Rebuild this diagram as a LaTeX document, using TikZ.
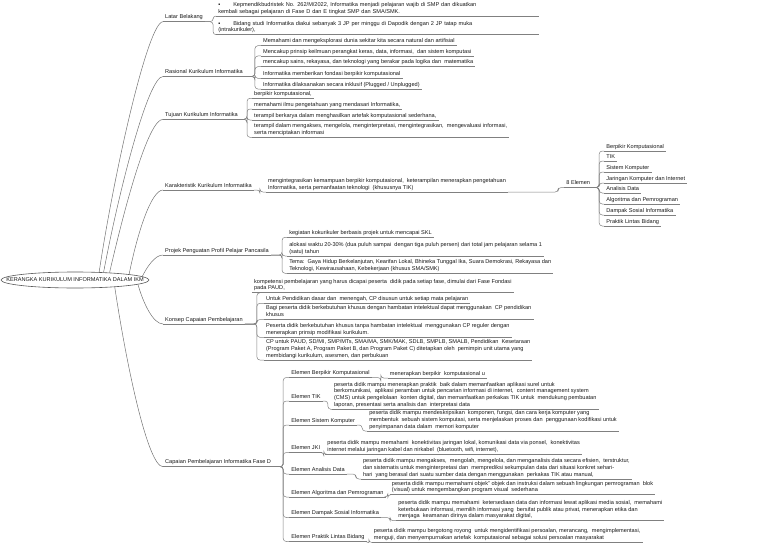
\documentclass[tikz,border=0pt]{standalone}
\usepackage{fontspec}
\setmainfont{Liberation Sans}
\usetikzlibrary{shapes.geometric}
\newcommand*{\mapfont}{\fontsize{5.6}{6.8}\selectfont}
\newcommand*{\bul}{▪\hspace{13pt}}
\tikzset{
    topic/.style = {anchor=south west,inner xsep=2pt,inner ysep=1.5pt,text depth=1.2pt,
        align=left,font=\mapfont,text=black!90,
        append after command={(\tikzlastnode.south west) edge[uline] (\tikzlastnode.south east)}},
    widetopic/.style = {topic,text width=#1,text depth={}},
    uline/.style = {draw=black!50,line width=0.5pt},
    conn/.style = {draw=black!50,line width=0.5pt,rounded corners=3pt},
    branch/.style = {draw=black!55,line width=0.5pt},
    central/.style = {ellipse,draw=black!65,line width=0.6pt,inner xsep=-30pt,inner ysep=0pt,
        minimum width=148pt,minimum height=16pt,font=\mapfont,text=black!90}
}

\begin{document}
\begin{tikzpicture}[x=1pt,y=-1pt]
        \useasboundingbox (0,0) rectangle (768,543);
        % Central topic
        \node[central] (root) at (75,280) {KERANGKA KURIKULUM INFORMATIKA DALAM IKM};
        % Main topics
        \node[topic] (lb) at (163,21.7) {Latar Belakang};
        \node[topic] (ras) at (163,76.5) {Rasional Kurikulum Informatika};
        \node[topic] (tuj) at (163,119.3) {Tujuan Kurikulum Informatika};
        \node[topic] (kar) at (163,190) {Karakteristik Kurikulum Informatika};
        \node[topic] (proj) at (163,255) {Projek Penguatan Profil Pelajar Pancasila};
        \node[topic] (kon) at (163,324) {Konsep Capaian Pembelajaran};
        \node[topic] (cp) at (163,466.7) {Capaian Pembelajaran Informatika Fase D};
        % Latar belakang
        \node[widetopic=319pt,xshift=11pt] (lb1) at (lb.south east |- 0,16) {\bul Kepmendikbudristek No. 262/M/2022, Informatika menjadi pelajaran wajib di SMP dan dikuatkan\\kembali sebagai pelajaran di Fase D dan E tingkat SMP dan SMA/SMK.};
        \node[widetopic=319pt,xshift=11pt] (lb2) at (lb.south east |- 0,34.7) {\bul Bidang studi Informatika diakui sebanyak 3 JP per minggu di Dapodik dengan 2 JP tatap muka\\(intrakurikuler),};
        % Rasional
        \node[topic,xshift=16pt] (ras1) at (ras.south east |- 0,45.7) {Memahami dan mengeksplorasi dunia sekitar kita secara natural dan artifisial};
        \node[topic,xshift=16pt] (ras2) at (ras.south east |- 0,56) {Mencakup prinsip keilmuan perangkat keras, data, informasi,\ \ dan sistem komputasi};
        \node[topic,xshift=16pt] (ras3) at (ras.south east |- 0,66.7) {mencakup sains, rekayasa, dan teknologi yang berakar pada logika dan\ \ matematika};
        \node[topic,xshift=16pt] (ras4) at (ras.south east |- 0,78.3) {Informatika memberikan fondasi berpikir komputasional};
        \node[topic,xshift=16pt] (ras5) at (ras.south east |- 0,89) {Informatika dilaksanakan secara inklusif (Plugged / Unplugged)};
        % Tujuan
        \node[topic,xshift=12pt] (tuj1) at (tuj.south east |- 0,98.3) {berpikir komputasional,};
        \node[topic,xshift=12pt] (tuj2) at (tuj.south east |- 0,109) {memahami ilmu pengetahuan yang mendasari Informatika,};
        \node[topic,xshift=12pt] (tuj3) at (tuj.south east |- 0,120) {terampil berkarya dalam menghasilkan artefak komputasional sederhana,};
        \node[topic,xshift=12pt] (tuj4) at (tuj.south east |- 0,137.3) {terampil dalam mengakses, mengelola, menginterpretasi, mengintegrasikan,\ \ mengevaluasi informasi,\\serta menciptakan informasi};
        % Karakteristik
        \node[topic,xshift=12pt] (kar1) at (kar.south east |- 0,192) {mengintegrasikan kemampuan berpikir komputasional,\ \ keterampilan menerapkan pengetahuan\\Informatika, serta pemanfaatan teknologi\ \ (khususnya TIK)};
        \node[topic,xshift=56pt] (el8) at (kar1.south east |- 0,187.5) {8 Elemen};
        \foreach \n/\y/\t in {ela/151/Berpikir Komputasional,elb/161/TIK,elc/172/Sistem Komputer,
                eld/183/Jaringan Komputer dan Internet,ele/193/Analisis Data,
                elf/204/Algoritma dan Pemrograman,elg/215/Dampak Sosial Informatika,
                elh/226/Praktik Lintas Bidang}
            \node[topic,xshift=12pt] (\n) at (el8.south east |- 0,\y) {\t};
        % Projek
        \node[topic,xshift=16pt] (proj1) at (proj.south east |- 0,237.3) {kegiatan kokurikuler berbasis projek untuk mencapai SKL};
        \node[topic,xshift=16pt] (proj2) at (proj.south east |- 0,256) {alokasi waktu 20-30\% (dua puluh sampai\ \ dengan tiga puluh persen) dari total jam pelajaran selama 1\\(satu) tahun};
        \node[topic,xshift=16pt] (proj3) at (proj.south east |- 0,273.3) {Tema:\ \ Gaya Hidup Berkelanjutan, Kearifan Lokal, Bhineka Tunggal Ika, Suara Demokrasi, Rekayasa dan\\Teknologi, Kewirausahaan, Kebekerjaan (khusus SMA/SMK)};
        % Konsep CP
        \node[topic,xshift=7pt] (kon1) at (kon.south east |- 0,292.7) {kompetensi pembelajaran yang harus dicapai peserta\ \ didik pada setiap fase, dimulai dari Fase Fondasi\\pada PAUD,};
        \node[topic,xshift=19pt] (kon2) at (kon.south east |- 0,303.3) {Untuk Pendidikan dasar dan\ \ menengah, CP disusun untuk setiap mata pelajaran};
        \node[topic,xshift=19pt] (kon3) at (kon.south east |- 0,319.5) {Bagi peserta didik berkebutuhan khusus dengan hambatan intelektual dapat menggunakan\ \ CP pendidikan\\khusus};
        \node[topic,xshift=19pt] (kon4) at (kon.south east |- 0,337.3) {Peserta didik berkebutuhan khusus tanpa hambatan intelektual\ \ menggunakan CP reguler dengan\\menerapkan prinsip modifikasi kurikulum.};
        \node[topic,xshift=19pt] (kon5) at (kon.south east |- 0,360) {CP untuk PAUD, SD/MI, SMP/MTs, SMA/MA, SMK/MAK, SDLB, SMPLB, SMALB, Pendidikan\ \ Kesetaraan\\(Program Paket A, Program Paket B, dan Program Paket C) ditetapkan oleh\ \ pemimpin unit utama yang\\membidangi kurikulum, asesmen, dan perbukuan};
        % Elemen fase D
        \foreach \n/\y/\t in {e1/377.5/Berpikir Komputasional,e2/401/TIK,e3/425/Sistem Komputer,
                e4/452.5/JKI,e5/474/Analisis Data,e6/497/Algoritma dan Pemrograman,
                e7/517.5/Dampak Sosial Informatika,e8/541.5/Praktik Lintas Bidang}
            \node[topic,xshift=16pt] (\n) at (cp.south east |- 0,\y) {Elemen \t};
        \node[topic,xshift=16pt] (d1) at (e1.south east |- 0,378) {menerapkan berpikir\ \ komputasional u};
        \node[topic,xshift=9pt] (d2) at (e2.south east |- 0,409.3) {peserta didik mampu menerapkan praktik\ \ baik dalam memanfaatkan aplikasi surel untuk\\berkomunikasi,\ \ aplikasi peramban untuk pencarian informasi di internet,\ \ content management system\\(CMS) untuk pengelolaan\ \ konten digital, dan memanfaatkan perkakas TIK untuk\ \ mendukung pembuatan\\laporan, presentasi serta analisis dan\ \ interpretasi data};
        \node[topic,xshift=10pt] (d3) at (e3.south east |- 0,431) {peserta didik mampu mendeskripsikan\ \ komponen, fungsi, dan cara kerja komputer yang\\membentuk\ \ sebuah sistem komputasi, serta menjelaskan proses dan\ \ penggunaan kodifikasi untuk\\penyimpanan data dalam\ \ memori komputer};
        \node[topic,xshift=3pt] (d4) at (e4.south east |- 0,454.3) {peserta didik mampu memahami\ \ konektivitas jaringan lokal, komunikasi data via ponsel,\ \ konektivitas\\internet melalui jaringan kabel dan nirkabel\ \ (bluetooth, wifi, internet),};
        \node[topic,xshift=14pt] (d5) at (e5.south east |- 0,479) {peserta didik mampu mengakses,\ \ mengolah, mengelola, dan menganalisis data secara efisien,\ \ terstruktur,\\dan sistematis untuk menginterpretasi dan\ \ memprediksi sekumpulan data dari situasi konkret sehari-\\hari\ \ yang berasal dari suatu sumber data dengan menggunakan\ \ perkakas TIK atau manual,};
        \node[topic,xshift=4pt] (d6) at (e6.south east |- 0,494.7) {peserta didik mampu memahami objek” objek dan instruksi dalam sebuah lingkungan pemrograman\ \ blok\\(visual) untuk mengembangkan program visual\ \ sederhana};
        \node[topic,xshift=15pt] (d7) at (e7.south east |- 0,520.7) {peserta didik mampu memahami\ \ ketersediaan data dan informasi lewat aplikasi media sosial,\ \ memahami\\keterbukaan informasi, memilih informasi yang\ \ bersifat publik atau privat, menerapkan etika dan\\menjaga\ \ keamanan dirinya dalam masyarakat digital,};
        \node[topic,xshift=5pt] (d8) at (e8.south east |- 0,542.5) {peserta didik mampu bergotong royong\ \ untuk mengidentifikasi persoalan, merancang,\ \ mengimplementasi,\\menguji, dan menyempurnakan artefak\ \ komputasional sebagai solusi persoalan masyarakat};
        % Branches from the central topic
        \foreach \n/\a/\u/\v/\w in {lb/18/15/-100/15,ras/15/15/-80/15,tuj/12/15/-65/15,
                kar/6.5/8/-40/12,proj/3.7/5/-10/8,kon/-4.2/5/18/10,cp/-10.9/12/80/15}
            \draw[branch] (root.\a) .. controls +(\u,\v) and +(-\w,0) .. (\n.south west);
        % Subtopic connectors
        \foreach \p/\c/\b in {lb/lb1/8,lb/lb2/8,
                ras/ras1/10,ras/ras2/10,ras/ras3/10,ras/ras4/10,ras/ras5/10,
                tuj/tuj1/7,tuj/tuj2/7,tuj/tuj3/7,tuj/tuj4/7,
                kar/kar1/6,kar1/el8/50,
                el8/ela/7,el8/elb/7,el8/elc/7,el8/eld/7,el8/ele/7,el8/elf/7,el8/elg/7,el8/elh/7,
                proj/proj1/11,proj/proj2/11,proj/proj3/11,
                kon/kon2/12,kon/kon3/12,kon/kon4/12,kon/kon5/12,
                cp/e1/10,cp/e2/10,cp/e3/10,cp/e4/10,cp/e5/10,cp/e6/10,cp/e7/10,cp/e8/10,
                e1/d1/9,e2/d2/5,e3/d3/5,e4/d4/1.5,e5/d5/9,e6/d6/2,e7/d7/9,e8/d8/2}
            \draw[conn] (\p.south east) -- ++(\b,0) |- (\c.south west);
        \draw[conn] (kon.south east) -- ++(12,0) |- ([xshift=9pt]kon1.south west);
    \end{tikzpicture}
\end{document}
